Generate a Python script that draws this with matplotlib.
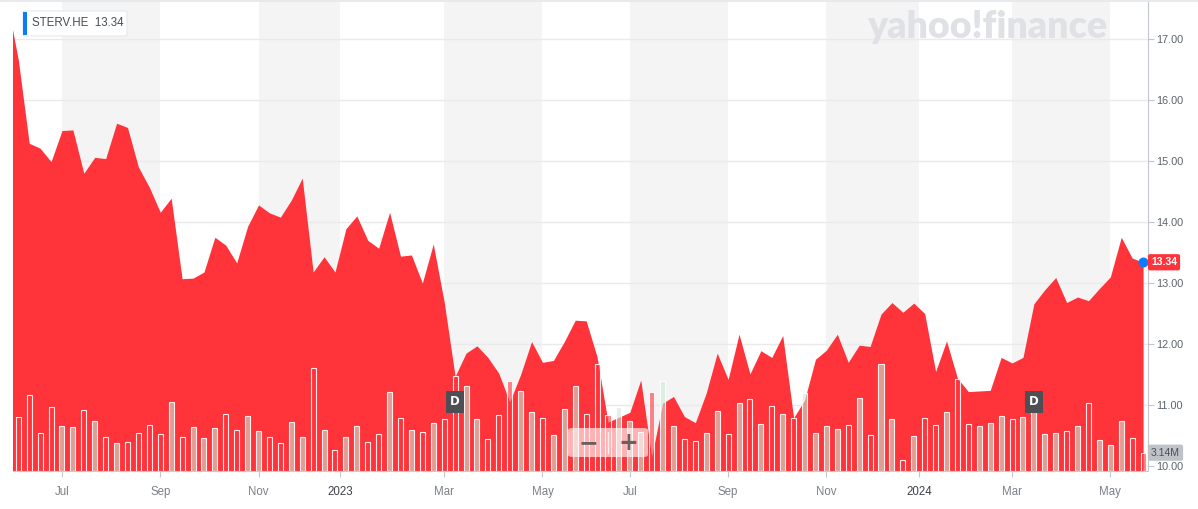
import numpy as np
import pandas as pd
import matplotlib
matplotlib.use("Agg")
import matplotlib.pyplot as plt
from matplotlib.patches import FancyBboxPatch, Rectangle
from matplotlib.lines import Line2D
import matplotlib.transforms as mtrans

# ---------------- data ----------------
ticker = "STERV.HE"
last_price = 13.34
last_volume_label = "3.14M"
first_week = "2022-05-30"          # weekly bars (Mondays)

# weekly close, first value is the week before the visible window
price = [17.59,
         16.66, 15.29, 15.21, 14.99, 15.50, 15.51, 14.80, 15.06, 15.04, 15.62,
         15.55, 14.90, 14.57, 14.16, 14.39, 13.07, 13.08, 13.18, 13.75, 13.62,
         13.33, 13.93, 14.28, 14.15, 14.08, 14.36, 14.72, 13.18, 13.43, 13.18,
         13.89, 14.10, 13.70, 13.57, 14.16, 13.44, 13.46, 13.00, 13.64, 12.69,
         11.47, 11.85, 11.97, 11.78, 11.52, 11.05, 11.50, 12.04, 11.70, 11.73,
         12.04, 12.39, 12.38, 11.79, 10.72, 10.80, 10.88, 11.41, 10.15, 11.03,
         11.14, 10.81, 10.71, 11.20, 11.85, 11.42, 12.16, 11.51, 11.89, 11.78,
         12.14, 10.79, 11.08, 11.75, 11.90, 12.16, 11.70, 11.98, 11.96, 12.49,
         12.68, 12.52, 12.67, 12.50, 11.55, 12.05, 11.44, 11.22, 11.23, 11.24,
         11.78, 11.69, 11.78, 12.66, 12.89, 13.09, 12.68, 12.77, 12.71, 12.91,
         13.10, 13.75, 13.41, 13.34]

# weekly volume in millions
volume = [9.32, 12.99, 6.47, 10.93, 7.67, 7.50, 10.42, 8.53, 5.78, 4.75,
          4.92, 6.47, 7.84, 6.30, 11.79, 5.78, 7.50, 5.61, 7.33, 9.73,
          6.98, 9.39, 6.81, 5.78, 4.75, 8.36, 5.78, 17.62, 6.98, 3.55,
          5.78, 7.67, 4.92, 6.30, 13.50, 9.04, 6.98, 6.69, 8.19, 8.87,
          16.30, 14.53, 8.87, 5.44, 9.56, 15.50, 13.68, 10.07, 9.04, 6.13,
          10.59, 14.53, 9.73, 18.31, 9.56, 11.03, 8.53, 6.74, 13.50, 15.50,
          7.67, 5.44, 5.10, 6.47, 10.24, 6.30, 11.62, 12.30, 8.01, 11.10,
          9.73, 9.04, 13.33, 6.47, 7.67, 7.16, 7.84, 12.48, 6.13, 18.31,
          8.87, 1.84, 5.95, 9.04, 7.84, 10.07, 15.84, 8.01, 7.67, 8.19,
          9.39, 8.87, 9.22, 10.47, 6.30, 6.47, 6.81, 7.67, 11.62, 5.27,
          4.41, 8.53, 5.61, 3.14]

dividend_weeks = ["2023-03-06", "2024-03-11"]

tick_dates = ["2022-07-01", "2022-09-01", "2022-11-01", "2023-01-01",
              "2023-03-01", "2023-05-01", "2023-07-01", "2023-09-01",
              "2023-11-01", "2024-01-01", "2024-03-01", "2024-05-01"]
tick_labels = ["Jul", "Sep", "Nov", "2023", "Mar", "May",
               "Jul", "Sep", "Nov", "2024", "Mar", "May"]
price_ticks = [10, 11, 12, 13, 14, 15, 16, 17]

# ---------------- layout ----------------
W, H = 1198, 509
RED = "#ff333a"
fig = plt.figure(figsize=(W / 100, H / 100), dpi=100)
fig.patch.set_facecolor("white")

def fx(px):
    return px / W

def fy(py):
    return 1 - py / H

ax = fig.add_axes([fx(13), fy(471), fx(1148) - fx(13), fy(2) - fy(471)])
ax.set_facecolor("white")

t0 = pd.Timestamp(first_week)
xs_price = np.arange(len(price)) - 1
xs_vol = np.arange(len(volume))

def week_index(d):
    return (pd.Timestamp(d) - t0).days // 7

tick_pos = []
for d, lab in zip(tick_dates, tick_labels):
    k = week_index(d)
    if lab.isdigit():
        k = k - 0.5
    tick_pos.append(k)

ymin, ymax = 9.918, 17.607
ax.set_xlim(-0.485, 103.45)
ax.set_ylim(ymin, ymax)

# alternating shaded bands
for a, b in zip(tick_pos[0::2], tick_pos[1::2]):
    ax.axvspan(a, b, color="#f4f4f4", lw=0, zorder=0)

for p in price_ticks:
    ax.axhline(p, color="#eaeaea", lw=1, zorder=1)

ax.fill_between(xs_price, price, ymin, color=RED, lw=0, zorder=2)

# volume bars (twin axis on top)
ax2 = ax.twinx()
ax2.set_ylim(0, 80.5)
ax2.set_xlim(ax.get_xlim())
ax2.axis("off")
up_col = (200 / 255, 235 / 255, 215 / 255, 0.58)
dn_col = (1.0, 0.2, 0.227, 0.6)
cols = [up_col if price[i + 1] >= price[i] else dn_col for i in range(len(volume))]
ax2.bar(xs_vol, volume, width=0.46, color=cols, edgecolor=(1, 1, 1, 0.9),
        linewidth=0.8, zorder=3)

# spines / ticks (after twinx, which resets tick side)
ax.spines["left"].set_visible(False)
ax.spines["top"].set_visible(False)
ax.spines["right"].set_color("#c3c6cb")
ax.spines["bottom"].set_color("#c9ccd1")
ax.set_yticks(price_ticks)
ax.set_yticklabels([f"{p:.2f}" for p in price_ticks])
ax.yaxis.set_ticks_position("right")
ax.yaxis.set_label_position("right")
ax.tick_params(axis="y", which="both", left=False, labelleft=False,
               right=True, labelright=True, length=4, color="#c3c6cb", pad=2,
               labelsize=7.8, labelcolor="#5b636a")
ax.set_xticks(tick_pos)
ax.set_xticklabels(tick_labels)
ax.tick_params(axis="x", length=4, color="#c3c6cb", pad=7, labelsize=8.3,
               labelcolor="#7b8087")
for lbl in ax.get_xticklabels():
    lbl.set_fontfamily("Liberation Sans")
    if lbl.get_text().isdigit():
        lbl.set_color("#3c4148")
for lbl in ax.get_yticklabels():
    lbl.set_fontfamily("Liberation Sans")

# last price dot and tags
ax2.plot([xs_price[-1]], [last_price], "o", color="#0b7cff", ms=6.2, zorder=6,
         clip_on=False, transform=ax.transData)
trans_r = mtrans.blended_transform_factory(ax.transAxes, ax.transData)
ax2.text(1.0 + 3 / 1135, last_price, f"{last_price:.2f}", transform=trans_r,
         ha="left", va="center", color="white", fontsize=7.5, fontweight="bold",
         family="Liberation Sans", zorder=7, clip_on=False,
         bbox=dict(boxstyle="round,pad=0.3,rounding_size=0.2", fc=RED, ec="none"))
trans_v = mtrans.blended_transform_factory(ax2.transAxes, ax2.transData)
ax2.text(1.0 + 3 / 1135, volume[-1], last_volume_label, transform=trans_v,
         ha="left", va="center", color="#4b5058", fontsize=7.5,
         family="Liberation Sans", zorder=7, clip_on=False,
         bbox=dict(boxstyle="round,pad=0.3,rounding_size=0.2", fc="#bfc3c8", ec="none"))

# dividend markers
for d in dividend_weeks:
    k = week_index(d)
    ax2.text(k, 11.05, "D", ha="center", va="center", color="white",
             fontsize=8.5, fontweight="bold", family="DejaVu Sans", zorder=8,
             transform=ax.transData,
             bbox=dict(boxstyle="square,pad=0.35", fc="#4d4f54", ec="none"))

# top border line
fig.add_artist(Line2D([0, 1], [fy(1), fy(1)], color="#e3e6ea", lw=1.2,
                      transform=fig.transFigure))

# watermark
fig.text(fx(987), fy(27), "yahoo!finance", ha="center", va="center",
         fontsize=27, fontweight="heavy", family="Lato", color="#dfe1e5",
         zorder=1)

# legend box
fig.add_artist(FancyBboxPatch((fx(23), fy(36)), fx(104), 25 / H,
                              boxstyle="round,pad=0,rounding_size=0.002",
                              fc="white", ec="#e6e8eb", lw=0.8,
                              transform=fig.transFigure, zorder=9))
fig.add_artist(Rectangle((fx(23), fy(35)), fx(4), 23 / H, fc="#0b7cff",
                         ec="none", transform=fig.transFigure, zorder=10))
fig.text(fx(32), fy(23.5), f"{ticker}  {last_price:.2f}", ha="left", va="center",
         fontsize=8.3, family="Liberation Sans", color="#464e56", zorder=11)

# zoom control
fig.add_artist(FancyBboxPatch((fx(568), fy(457)), fx(80), 29 / H,
                              boxstyle="round,pad=0,rounding_size=0.004",
                              fc=(1, 1, 1, 0.62), ec="none",
                              transform=fig.transFigure, zorder=9))
fig.add_artist(Line2D([fx(608), fx(608)], [fy(453), fy(432)], color=(1, 1, 1, 0.8),
                      lw=1, transform=fig.transFigure, zorder=10))
fig.text(fx(588), fy(443), "\u2212", ha="center", va="center", fontsize=17,
         fontweight="bold", color="#6b6060", zorder=11)
fig.text(fx(628), fy(443), "+", ha="center", va="center", fontsize=17,
         fontweight="bold", color="#6b6060", zorder=11)

fig.savefig("out.png", dpi=100)
